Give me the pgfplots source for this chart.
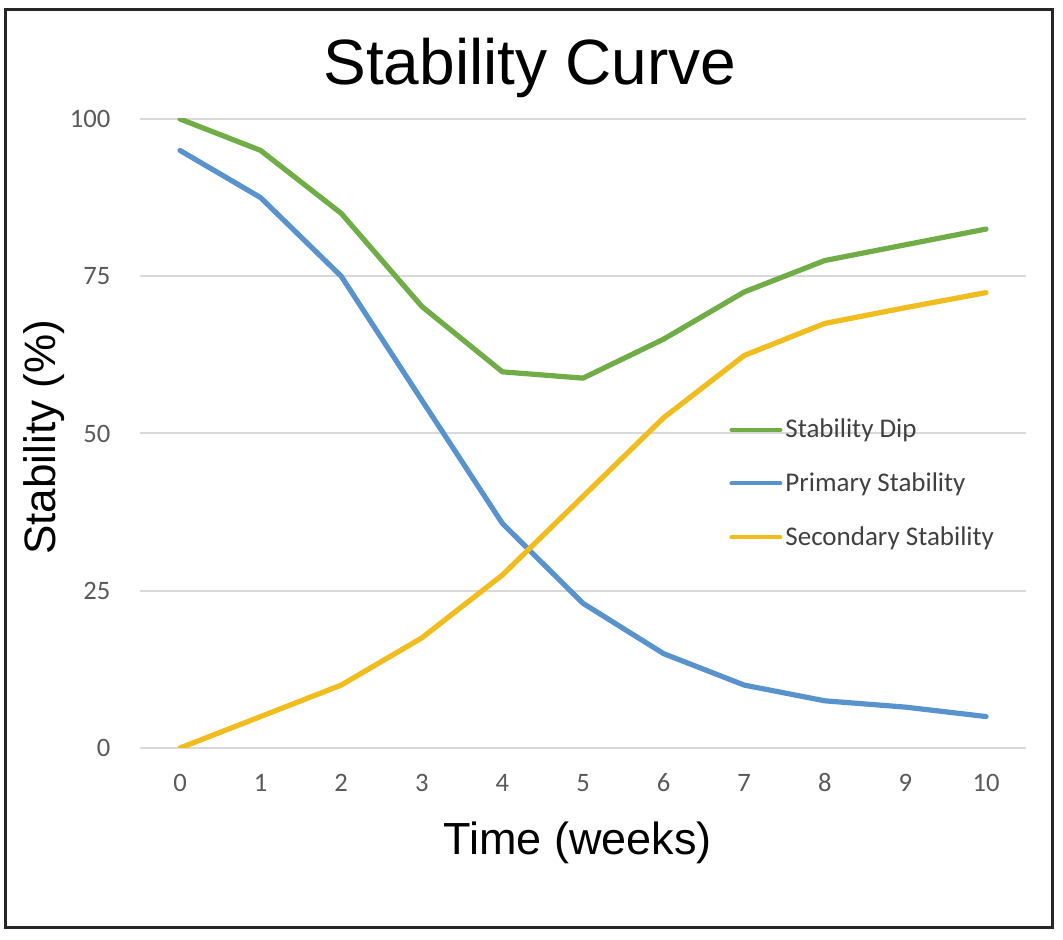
\documentclass[border=0pt]{standalone}
\usepackage{fontspec}
\usepackage{pgfplots}
\pgfplotsset{compat=1.18}
\setmainfont{Liberation Sans}
\newfontfamily\calibri{Carlito}

\definecolor{dipgreen}{RGB}{112,173,71}
\definecolor{primblue}{RGB}{88,147,205}
\definecolor{secyellow}{RGB}{240,188,30}
\definecolor{tickgray}{RGB}{89,89,89}
\definecolor{leggray}{RGB}{64,64,64}
\definecolor{gridgray}{RGB}{217,217,217}

\begin{document}
\begin{tikzpicture}
% page extent and frame
\useasboundingbox (0pt,0pt) rectangle (531.5pt,470pt);
\draw[line width=1.5pt, black!85] (2.5pt,6pt) rectangle (526pt,465pt);

\begin{axis}[
  at={(69.85pt,96pt)}, anchor=south west,
  scale only axis, width=443.3pt, height=314.5pt,
  xmin=-0.5, xmax=10.5, ymin=0, ymax=100,
  xtick={0,1,...,10}, ytick={0,25,50,75,100},
  axis line style={draw=none},
  major tick length=0pt,
  ymajorgrids, grid style={gridgray, line width=1pt},
  /pgf/number format/assume math mode=true,
  ticklabel style={font=\calibri\fontsize{13.3}{13.3}\selectfont, text=tickgray},
  yticklabel style={anchor=east, inner sep=0pt, xshift=-14.5pt},
  xticklabel style={anchor=base, inner sep=0pt, yshift=-21.8pt},
  title={Stability Curve},
  title style={at={(axis description cs:0.440,1.036)}, anchor=base,
    inner sep=0pt, font=\fontsize{32}{32}\selectfont},
  xlabel={Time (weeks)},
  xlabel style={at={(axis description cs:0.494,-0.170)}, anchor=base,
    inner sep=0pt, font=\fontsize{22.5}{22.5}\selectfont},
  ylabel={Stability (\%)},
  ylabel style={at={(axis description cs:-0.0955,0.494)}, anchor=base,
    rotate=0, inner sep=0pt, font=\fontsize{22}{22}\selectfont},
  legend image code/.code={\draw[#1, line width=2pt] (0pt,0pt) -- (24.5pt,0pt);},
  legend cell align=left,
  legend style={draw=none, fill=none, at={(0.6647,0.4205)}, anchor=west,
    inner sep=0pt, row sep=16pt,
    font=\calibri\fontsize{13.5}{13.5}\selectfont, text=leggray,
    nodes={inner sep=0pt},
    /tikz/every odd column/.append style={column sep=1.5pt}},
  every axis plot/.append style={line width=2.6pt, line join=round, line cap=round},
]
\addplot[dipgreen] coordinates {
  (0,100) (1,95) (2,85) (3,70.2) (4,59.8) (5,58.8) (6,65) (7,72.5) (8,77.5) (9,80) (10,82.5)};
\addlegendentry{Stability Dip}
\addplot[primblue] coordinates {
  (0,95) (1,87.5) (2,75) (3,55.3) (4,35.7) (5,23) (6,15) (7,10) (8,7.5) (9,6.5) (10,5)};
\addlegendentry{Primary Stability}
\addplot[secyellow] coordinates {
  (0,0) (1,5) (2,10) (3,17.5) (4,27.5) (5,40) (6,52.5) (7,62.4) (8,67.5) (9,70) (10,72.4)};
\addlegendentry{Secondary Stability}
\end{axis}
\end{tikzpicture}
\end{document}
